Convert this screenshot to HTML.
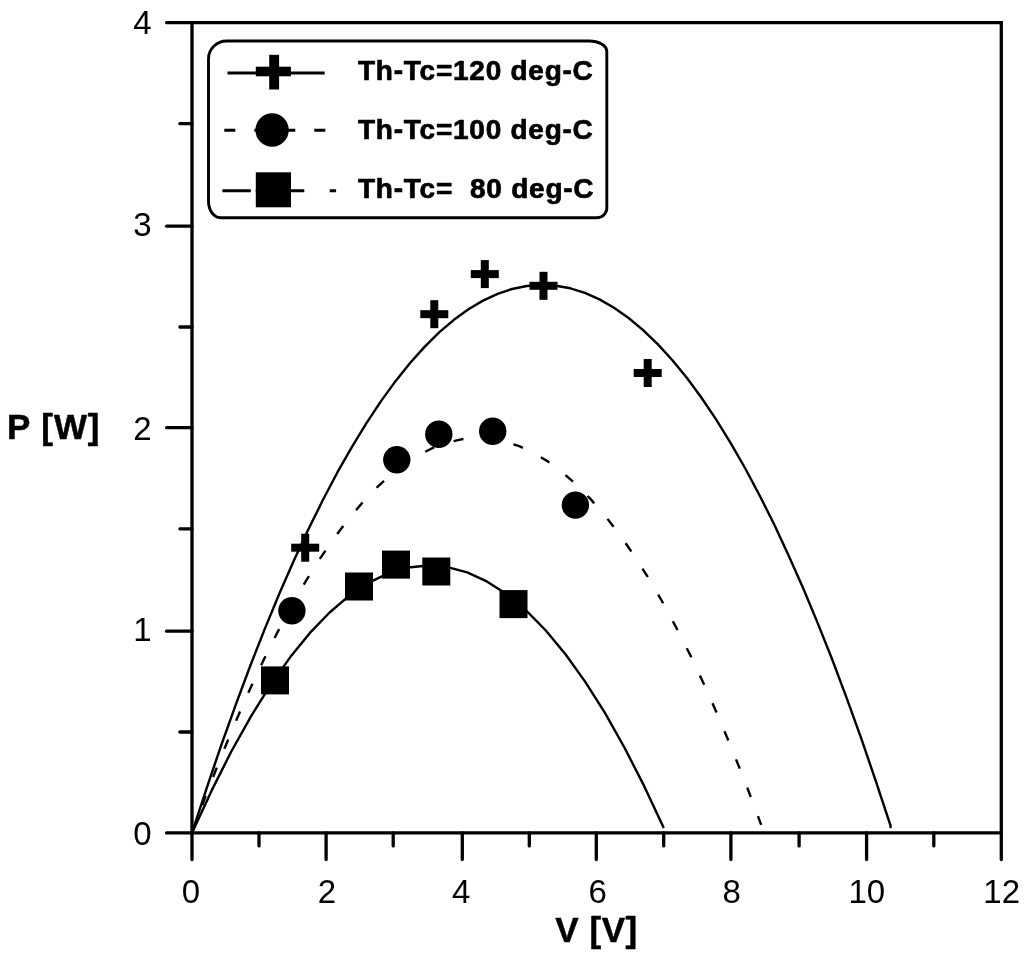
<!DOCTYPE html>
<html><head><meta charset="utf-8"><title>P-V curves</title>
<style>
html,body{margin:0;padding:0;background:#fff;}
body{width:1024px;height:960px;overflow:hidden;}
svg{display:block;}
</style></head>
<body>
<svg width="1024" height="960" viewBox="0 0 1024 960">
<rect width="1024" height="960" fill="#fff"/>
<g fill="none" stroke="#000" stroke-width="3.3" stroke-linecap="butt">
<path d="M192 832.9 V22.7 H1001.3 V832.9 Z"/>
</g>
<g fill="none" stroke="#000" stroke-width="3.3" stroke-linecap="round">
<path d="M166.6 832.9 H192"/>
<path d="M179.9 732.0 H192"/>
<path d="M166.6 631.2 H192"/>
<path d="M179.9 528.8 H192"/>
<path d="M166.6 427.7 H192"/>
<path d="M179.9 327.0 H192"/>
<path d="M166.6 226.2 H192"/>
<path d="M179.9 123.6 H192"/>
<path d="M166.6 22.7 H192"/>
<path d="M192.0 832.9 V859.5"/>
<path d="M259.0 832.9 V845.9"/>
<path d="M326.1 832.9 V859.5"/>
<path d="M393.2 832.9 V845.9"/>
<path d="M462.3 832.9 V859.5"/>
<path d="M529.3 832.9 V845.9"/>
<path d="M596.3 832.9 V859.5"/>
<path d="M663.7 832.9 V845.9"/>
<path d="M730.9 832.9 V859.5"/>
<path d="M799.1 832.9 V845.9"/>
<path d="M866.6 832.9 V859.5"/>
<path d="M933.8 832.9 V845.9"/>
<path d="M1001.3 832.9 V859.5"/>
</g>
<g fill="none" stroke="#000" stroke-width="2.4" stroke-linejoin="round">
<polyline points="192.0,832.9 206.6,788.3 221.1,745.6 235.7,704.9 250.2,666.0 264.8,628.9 279.3,593.8 293.9,560.6 308.4,529.3 323.0,499.8 337.5,472.2 352.1,446.6 366.6,422.8 381.2,400.9 395.7,380.9 410.3,362.8 424.8,346.6 439.4,332.2 453.9,319.8 468.5,309.3 483.0,300.6 497.6,293.8 512.1,289.0 526.7,286.0 541.2,284.9 555.8,285.7 570.4,288.3 584.9,292.9 599.5,299.4 614.0,307.7 628.6,318.0 643.1,330.1 657.7,344.1 672.2,360.0 686.8,377.8 701.3,397.5 715.9,419.1 730.4,442.6 745.0,468.0 759.5,495.2 774.1,524.3 788.6,555.4 803.2,588.3 817.7,623.1 832.3,659.8 846.8,698.4 861.4,738.9 875.9,781.3 890.5,825.5 890.6,828.1"/>
<polyline points="192.0,832.9 206.2,794.6 220.5,758.2 234.7,723.8 248.9,691.4 263.2,660.9 277.4,632.4 291.6,605.8 305.8,581.2 320.1,558.5 334.3,537.8 348.5,519.0 362.8,502.2 377.0,487.3 391.2,474.4 405.5,463.5 419.7,454.5 433.9,447.4 448.1,442.4 462.4,439.2 476.6,438.0 490.8,438.8 505.1,441.5 519.3,446.2 533.5,452.9 547.8,461.4 562.0,472.0 576.2,484.5 590.4,498.9 604.7,515.3 618.9,533.7 633.1,554.0 647.4,576.3 661.6,600.5 675.8,626.7 690.1,654.8 704.3,684.9 718.5,716.9 732.7,750.9 747.0,786.9 761.2,824.8" stroke-dasharray="10 20.4" stroke-dashoffset="1"/>
<polyline points="192.0,832.9 211.7,790.4 231.3,751.5 251.0,716.3 270.6,684.9 290.3,657.1 309.9,632.9 329.6,612.5 349.3,595.7 368.9,582.6 388.6,573.2 408.2,567.5 427.9,565.5 447.5,567.1 467.2,572.4 486.8,581.4 506.5,594.1 526.2,610.5 545.8,630.5 565.5,654.2 585.1,681.6 604.8,712.7 624.4,747.5 644.1,785.9 663.8,828.1"/>
</g>
<g fill="#000">
<rect x="291.2" y="543.7" width="28.0" height="8.0"/><rect x="301.2" y="533.7" width="8.0" height="28.0"/>
<rect x="420.3" y="310.2" width="28.0" height="8.0"/><rect x="430.3" y="300.2" width="8.0" height="28.0"/>
<rect x="470.8" y="270.1" width="28.0" height="8.0"/><rect x="480.8" y="260.1" width="8.0" height="28.0"/>
<rect x="529.5" y="281.8" width="28.0" height="8.0"/><rect x="539.5" y="271.8" width="8.0" height="28.0"/>
<rect x="633.7" y="369.0" width="28.0" height="8.0"/><rect x="643.7" y="359.0" width="8.0" height="28.0"/>
<circle cx="291.9" cy="610.8" r="13.7"/>
<circle cx="396.8" cy="459.8" r="13.7"/>
<circle cx="438.8" cy="434.3" r="13.7"/>
<circle cx="492.7" cy="431.2" r="13.7"/>
<circle cx="575.4" cy="505.1" r="13.7"/>
<rect x="261.0" y="666.4" width="28" height="28"/>
<rect x="345.0" y="572.5" width="28" height="28"/>
<rect x="382.0" y="550.6" width="28" height="28"/>
<rect x="422.3" y="557.5" width="28" height="28"/>
<rect x="499.5" y="590.1" width="28" height="28"/>
</g>
<path d="M226.5 41.0 H589.1 A17.7 10.6 0 0 1 606.8 51.6 V208.3 A10.0 9.4 0 0 1 596.8 217.7 H220.5 A12.0 16.4 0 0 1 208.5 201.3 V58.7 A18.0 17.7 0 0 1 226.5 41.0 Z" fill="none" stroke="#000" stroke-width="2.9"/>
<g stroke="#000" stroke-width="3" fill="none">
<path d="M227.5 73.1 H324.7"/>
<path d="M224.3 130.3 H326.3" stroke-dasharray="11 19"/>
<path d="M222.4 190.8 H250.8 M255.8 190.8 H304.3 M329.7 190.8 H336.1"/>
</g>
<g fill="#000">
<rect x="255.8" y="66.7" width="35.1" height="9.6"/><rect x="269.2" y="54.8" width="9.9" height="34.7"/>
<circle cx="272.1" cy="130.05" r="16.7"/>
<rect x="255.8" y="172.3" width="35.2" height="35"/>
</g>
<g font-family="Liberation Sans, Arial, sans-serif" fill="#000">
<g font-size="28" font-weight="bold" letter-spacing="0.75" stroke="#000" stroke-width="0.7" stroke-linejoin="round">
<text x="358" y="79.7">Th-Tc=120 deg-C</text>
<text x="358" y="138.5">Th-Tc=100 deg-C</text>
<text x="358" y="197.6" xml:space="preserve" style="white-space:pre">Th-Tc=  80 deg-C</text>
</g>
<g font-size="33" text-anchor="end">
<text x="151.5" y="844.5">0</text>
<text x="151.5" y="641.2">1</text>
<text x="151.5" y="440.0">2</text>
<text x="151.5" y="236.3">3</text>
<text x="151.5" y="34.4">4</text>
</g>
<g font-size="33" text-anchor="middle">
<text x="190.9" y="903">0</text>
<text x="326.9" y="903">2</text>
<text x="461.1" y="903">4</text>
<text x="597.6" y="903">6</text>
<text x="731.7" y="903">8</text>
<text x="866.8" y="903">10</text>
<text x="1001.7" y="903">12</text>
</g>
<text x="7" y="439.4" font-size="35" font-weight="bold" textLength="92.5" lengthAdjust="spacing" stroke="#000" stroke-width="0.5" stroke-linejoin="round">P [W]</text>
<text x="555.2" y="942.2" font-size="35" font-weight="bold" textLength="82" lengthAdjust="spacing" stroke="#000" stroke-width="0.5" stroke-linejoin="round">V [V]</text>
</g>
</svg>
</body></html>
